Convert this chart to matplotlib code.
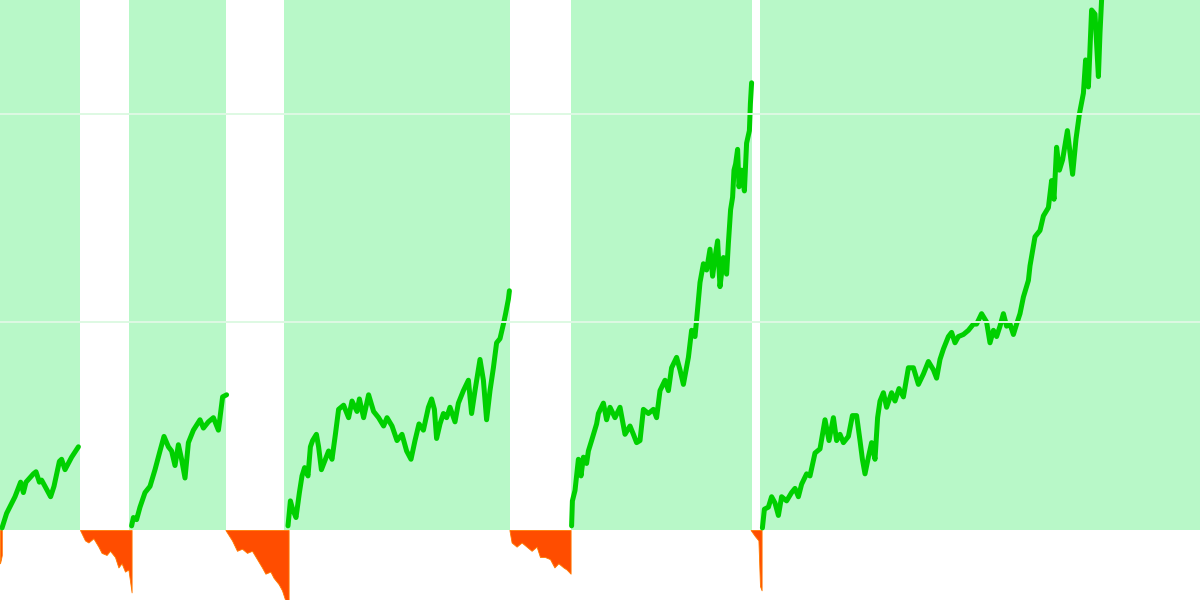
import matplotlib
matplotlib.use('Agg')
import matplotlib.pyplot as plt

# time axis in months, values in % gain (bull) / % drawdown (bear)
bull_start = [0, 64.5, 141.8, 285.3, 380]
bull_end = [40, 113, 255, 375.8, 600]

bull1_x = [1, 3.3, 7.5, 10.3, 11.7, 13, 16.7, 18, 19.7, 20.8, 22.5, 25.3, 27, 29.7, 30.8, 32.5, 35.8, 39.2]
bull1_y = [1, 8, 16, 23, 18, 23, 27, 28, 23, 24, 21, 16, 21, 33, 34, 29, 35, 40]

bull2_x = [65.8, 66.7, 68.3, 70, 72.5, 75, 77.5, 80, 82, 84.2, 85.8, 87.5, 89.2, 90.8, 92.5, 94.2,
           96.7, 100, 101.7, 104.2, 106.7, 109.2, 110, 111.3, 113.3]
bull2_y = [2, 6, 5, 11, 18, 21, 29, 38, 45, 40, 38, 31, 41, 34, 25, 42,
           48, 53, 49, 52, 54, 48, 54, 64, 65]

bull3_x = [144, 145.2, 146.3, 148, 149.7, 151, 152.3, 154, 155.2, 156.3, 158.2, 159.3, 160.7, 162.7,
           164.3, 166, 167.7, 169.3, 171.8, 174.3, 176, 178.5, 179.7, 181.8, 184.3, 186.8, 189.3,
           191.8, 193.5, 196, 198.5, 201, 203.3, 205.5, 207.5, 209.5, 211.7, 214.2, 215.8, 217.2,
           218.3, 220, 221.7, 223.3, 225, 227.5, 229.2, 231.7, 234.2, 235.8, 237.5, 240, 241.7,
           243.3, 245, 246.7, 248.3, 250, 251.7, 252.8, 254.2, 254.7]
bull3_y = [2, 14, 10, 6, 18, 26, 30, 26, 40, 43, 46, 40, 29, 34,
           38, 34, 46, 58, 60, 54, 62, 57, 63, 54, 65, 57, 54,
           50, 54, 50, 43, 46, 38, 34, 43, 51, 48, 59, 63, 58,
           44, 51, 56, 54, 59, 52, 61, 67, 72, 56, 67, 82, 72,
           53, 67, 78, 90, 92, 99, 104, 111, 115]

bull4_x = [285.8, 286.2, 287.5, 289.2, 290.5, 291.7, 293.3, 294.2, 295.8, 298.3, 299.2, 301.7, 303.3,
           305, 307.5, 310, 312.5, 315, 316.7, 318.3, 320, 321.7, 324.2, 326.7, 328.3, 330, 332.5,
           334.2, 335.8, 338.3, 340, 341.7, 344.2, 345.8, 347.5, 348.3, 350, 351.7, 353.3, 355,
           356.3, 357.5, 358.8, 360, 361.7, 363.3, 364.2, 365.3, 366.3, 367, 367.8, 368.8, 369.5,
           370.8, 372.2, 373.3, 374.7, 375.2, 375.8]
bull4_y = [2, 14, 19, 34, 26, 35, 32, 38, 43, 51, 56, 61, 53,
           59, 54, 59, 46, 50, 46, 42, 43, 58, 56, 58, 54, 67, 72,
           67, 78, 83, 77, 70, 83, 96, 93, 101, 119, 128, 125, 135,
           122, 131, 139, 117, 131, 123, 138, 154, 160, 173, 176, 183, 165,
           173, 163, 186, 192, 205, 215]

bull5_x = [381.2, 382.2, 384.2, 385.8, 387.5, 389.2, 390.8, 393.3, 395.8, 397.5, 399.2, 400.8, 403.3,
           405, 407.5, 410, 412.5, 414.5, 416.7, 418.3, 420, 421.7, 424.2, 426.2, 428.3, 430, 431.2,
           432.5, 434.2, 435.8, 437.5, 438.8, 440, 441.7, 443.3, 445.8, 447.5, 449.5, 451.7, 454.2,
           456.7, 459.2, 461.7, 464.2, 466.7, 468.3, 470, 471.7, 474.2, 475.8, 477.5, 479.2, 481.7,
           484.2, 486.7, 488.3, 490.8, 493.3, 495, 496.7, 498.3, 500, 501.7, 503.3, 505, 506.7,
           508.3, 510, 511.7, 514.2, 515, 517.5, 520, 521.7, 524.2, 525.8, 527, 528.3, 529.7,
           531.3, 533.7, 536.3, 538, 539.7, 541.7, 542.8, 544.2, 545.8, 547.5, 549.2, 550, 550.8, 551.5]
bull5_y = [1, 10, 11, 16, 13, 7, 16, 14, 18, 20, 16, 22, 27,
           26, 37, 39, 53, 43, 54, 43, 46, 42, 45, 55, 55, 43, 34,
           27, 35, 42, 34, 54, 62, 66, 59, 66, 62, 68, 64, 78,
           78, 70, 75, 81, 77, 73, 82, 87, 93, 95, 90, 93, 94,
           96, 99, 99, 104, 100, 90, 96, 93, 98, 104, 98, 99, 94,
           99, 104, 112, 120, 127, 141, 144, 151, 155, 168, 159, 184, 173,
           178, 192, 171, 188, 200, 210, 226, 213, 250, 248, 218, 239, 255, 260]

bear0_x = [0, 0.5, 0.9]
bear0_y = [-16, -14, -12]

bear1_x = [40, 42.5, 44.2, 46.7, 49.2, 50.8, 53.3, 55, 57.5, 59.2, 60.8, 62.5, 64.2, 65.8]
bear1_y = [0, -5, -6, -4, -8, -11, -12, -10, -13, -18, -16, -20, -19, -30]

bear2_x = [112.7, 116, 118.5, 121, 123.5, 126, 128.5, 131, 132.7, 135.2, 136.8, 139.3, 141, 142.7, 144.3]
bear2_y = [0, -5, -10, -9, -11, -10, -14, -18, -21, -20, -23, -26, -29, -34, -36]

bear3_x = [254.7, 255.8, 258.3, 260.8, 263.3, 265.8, 268.3, 270, 272.5, 275, 277.2, 279.2, 281.7, 283.3, 285.3]
bear3_y = [0, -6, -8, -6, -8, -10, -8, -13, -13, -14, -18, -16, -18, -19, -21]

bear4_x = [375.3, 377.5, 379.2, 380, 380.8]
bear4_y = [0, -3, -5, -27, -29]

bulls = [(bull1_x, bull1_y), (bull2_x, bull2_y), (bull3_x, bull3_y),
         (bull4_x, bull4_y), (bull5_x, bull5_y)]
bears = [(bear0_x, bear0_y), (bear1_x, bear1_y), (bear2_x, bear2_y),
         (bear3_x, bear3_y), (bear4_x, bear4_y)]

y_top = 254.8
y_bottom = -33.65

fig = plt.figure(figsize=(12, 6), dpi=100)
ax = fig.add_axes([0, 0, 1, 1])

# green background over each bull run (only above zero)
for s, e in zip(bull_start, bull_end):
    ax.fill_between([s, e], 0, y_top + 10, color='#b8f8c8', linewidth=0, zorder=0)

# drawdowns
for bx, by in bears:
    ax.fill_between(bx, 0, by, color='#ff4d00', linewidth=0.6, edgecolor='#ff7a00', zorder=1)

# gains
for gx, gy in bulls:
    ax.plot(gx, gy, color='#00d000', linewidth=3.6, solid_joinstyle='round',
            solid_capstyle='round', zorder=2)

ax.set_xlim(0, 600)
ax.set_ylim(y_bottom, y_top)
ax.set_yticks([100, 200])
ax.set_xticks([])
ax.set_axisbelow(False)
ax.grid(axis='y', color='#def9e3', linewidth=1.4)
ax.tick_params(length=0, labelleft=False)
for sp in ax.spines.values():
    sp.set_visible(False)

fig.savefig('out.png', dpi=100, facecolor='white')
